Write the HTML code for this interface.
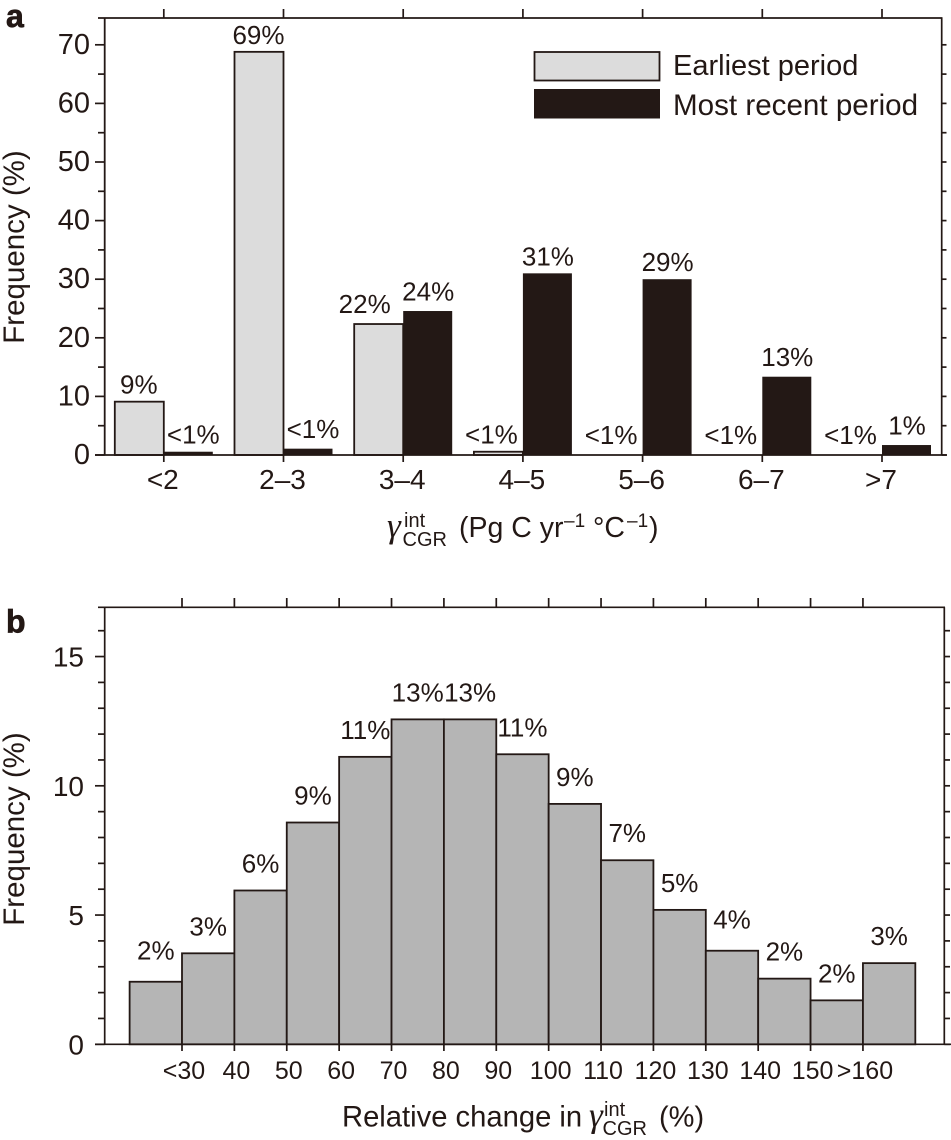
<!DOCTYPE html>
<html lang="en">
<head>
<meta charset="utf-8">
<title>Frequency histograms of gamma CGR int</title>
<style>
html,body{margin:0;padding:0;background:#fff;width:951px;height:1140px;overflow:hidden}
svg{display:block}
text{font-family:"Liberation Sans",sans-serif;fill:#231815}
.serif{font-family:"Liberation Serif",serif;font-style:italic}
</style>
</head>
<body>
<svg id="figure" xmlns="http://www.w3.org/2000/svg" width="951" height="1140" viewBox="0 0 951 1140">
  <rect width="951" height="1140" fill="#ffffff"/>

  <text x="6" y="27" font-size="32" font-weight="700" stroke="#231815" stroke-width="0.7">a</text>
  <text x="6" y="632.5" font-size="32" font-weight="700" stroke="#231815" stroke-width="0.7">b</text>

  <text transform="translate(24,247) rotate(-90)" text-anchor="middle" font-size="29.5">Frequency (%)</text>
  <text transform="translate(24,829) rotate(-90)" text-anchor="middle" font-size="29.5">Frequency (%)</text>

  <g id="plot-a"></g>
  <g id="plot-b"></g>

  <g>
    <rect x="534.5" y="52" width="125" height="28.5" fill="#dcdcdc" stroke="#231815" stroke-width="1.8"/>
    <text x="673" y="75" font-size="29">Earliest period</text>
    <rect x="534" y="89" width="126" height="29.5" fill="#231815"/>
    <text x="673" y="115" font-size="29.6">Most recent period</text>
  </g>

  <g>
    <text class="serif" x="387" y="537" font-size="35">γ</text>
    <text x="404" y="527" font-size="20">int</text>
    <text x="402.5" y="546" font-size="20">CGR</text>
    <text x="459" y="537" font-size="28.5">(Pg C yr</text>
    <text x="564" y="527" font-size="19">–1</text>
    <text x="593" y="537" font-size="28.5">°C</text>
    <text x="627" y="527" font-size="19">–1</text>
    <text x="649" y="537" font-size="28.5">)</text>
  </g>

  <g>
    <text x="342" y="1126.5" font-size="29.2">Relative change in</text>
    <text class="serif" x="589" y="1126.5" font-size="35">γ</text>
    <text x="604" y="1116" font-size="20">int</text>
    <text x="602.5" y="1135" font-size="20">CGR</text>
    <text x="659" y="1126.5" font-size="29">(%)</text>
  </g>
</svg>

<script>
// Panel a data
const categoriesA = ['<2', '2–3', '3–4', '4–5', '5–6', '6–7', '>7'];
const earliestValues = [9.1, 68.8, 22.35, 0.56, 0, 0, 0];
const recentValues = [0.56, 1.08, 24.57, 31, 30, 13.36, 1.7];
const earliestLabels = ['9%', '69%', '22%', '<1%', '<1%', '<1%', '<1%'];
const recentLabels = ['<1%', '<1%', '24%', '31%', '29%', '13%', '1%'];
const yTicksA = [0, 10, 20, 30, 40, 50, 60, 70];

// Panel b data
const categoriesB = ['<30', '40', '50', '60', '70', '80', '90', '100', '110', '120', '130', '140', '150', '>160'];
const changeValues = [2.42, 3.52, 5.95, 8.58, 11.12, 12.57, 12.57, 11.22, 9.3, 7.12, 5.2, 3.62, 2.54, 1.7, 3.14];
const changeLabels = ['2%', '3%', '6%', '9%', '11%', '13%', '13%', '11%', '9%', '7%', '5%', '4%', '2%', '2%', '3%'];
const yTicksB = [0, 5, 10, 15];

const NS = 'http://www.w3.org/2000/svg';
const INK = '#231815';

function make(parent, tag, attrs, content) {
  const el = document.createElementNS(NS, tag);
  for (const k in attrs) el.setAttribute(k, attrs[k]);
  if (content !== undefined) el.textContent = content;
  parent.appendChild(el);
  return el;
}
function tickLine(parent, x1, y1, x2, y2, w) {
  return make(parent, 'line', { x1, y1, x2, y2, stroke: INK, 'stroke-width': w || 1.7 });
}

// ---------- Panel a ----------
const plotA = document.getElementById('plot-a');
const xA = i => 163.8 + i * 119.7;
const yA = v => 455 - v * 5.86;
const barWidthA = 49;

function liftEarliest(i) {
  if (i === 2) return 11;
  if (earliestValues[i] === 0) return 11;
  return 8;
}
function liftRecent(i) {
  if (i === 0 || i === 3 || i === 4) return 8;
  return 10.7;
}

categoriesA.forEach((c, i) => {
  const earlyTop = yA(earliestValues[i]);
  if (earliestValues[i] > 0) {
    const bar = make(plotA, 'rect', {
      x: xA(i) - barWidthA, y: earlyTop, width: barWidthA, height: yA(0) - earlyTop,
      fill: '#dcdcdc', stroke: INK, 'stroke-width': 1.8
    });
    
    
  }
  const recentTop = yA(recentValues[i]);
  const barR = make(plotA, 'rect', {
    x: xA(i), y: recentTop, width: barWidthA, height: yA(0) - recentTop, fill: INK
  });
  
  

  const isSmallE = earliestLabels[i] === '<1%';
  const earlyShift = i === 2 ? -14 : (isSmallE ? -7 : -0.5);
  const lblE = make(plotA, 'text', {
    x: xA(i) - barWidthA / 2 + earlyShift, y: earlyTop - liftEarliest(i), 'text-anchor': 'middle', 'font-size': 26
  }, earliestLabels[i]);
  
  

  const isSmallR = recentLabels[i] === '<1%';
  const lblR = make(plotA, 'text', {
    x: xA(i) + barWidthA / 2 + (isSmallR ? 5 : 0.5), y: recentTop - liftRecent(i), 'text-anchor': 'middle', 'font-size': 26
  }, recentLabels[i]);
  
  

  const tb = tickLine(plotA, xA(i), yA(0), xA(i), 462);
  
  
  const tt = tickLine(plotA, xA(i), 9, xA(i), 18);
  
  

  const tl = make(plotA, 'text', {
    x: xA(i) - 1, y: 489, 'text-anchor': 'middle', 'font-size': 28
  }, c);
  
  
});

yTicksA.forEach(v => {
  const maj = tickLine(plotA, 95, yA(v), 104.7, yA(v));
  
  
  const r = tickLine(plotA, 941.7, yA(v), 946.5, yA(v));
  
  
  const lab = make(plotA, 'text', { x: 90, y: yA(v) + 9, 'text-anchor': 'end', 'font-size': 29 }, String(v));
  
  
  const minorV = v + 5;
  if (minorV < 70) {
    const mi = tickLine(plotA, 98, yA(minorV), 104.7, yA(minorV));
    
    
    const mr = tickLine(plotA, 941.7, yA(minorV), 946.5, yA(minorV));
    
    
  }
});

const spineLA = tickLine(plotA, 104.7, 18, 104.7, yA(0), 1.8);


const spineRA = tickLine(plotA, 941.7, 18, 941.7, yA(0), 1.7);


const spineTA = tickLine(plotA, 98, 18, 942.5, 18, 1.8);


const spineBA = tickLine(plotA, 95, yA(0), 947, yA(0), 1.7);



// ---------- Panel b ----------
const plotB = document.getElementById('plot-b');
const edgeB = i => 182 + (i - 1) * 52.38;
const yB = v => 1044.3 - v * 25.85;

changeValues.forEach((v, i) => {
  const top = yB(v);
  const bar = make(plotB, 'rect', {
    x: edgeB(i), y: top, width: edgeB(i + 1) - edgeB(i), height: yB(0) - top,
    fill: '#b5b5b5', stroke: INK, 'stroke-width': 1.8
  });
  
  
});
changeValues.forEach((v, i) => {
  const extraLift = (i === 0 || i === 11) ? 4 : 0;
  const lbl = make(plotB, 'text', {
    x: (edgeB(i) + edgeB(i + 1)) / 2, y: yB(v) - 18 - extraLift, 'text-anchor': 'middle', 'font-size': 26
  }, changeLabels[i]);
  
  
});

categoriesB.forEach((c, i) => {
  const x = edgeB(i + 1);
  const tb = tickLine(plotB, x, 1044.3, x, 1051);
  
  
  const tt = tickLine(plotB, x, 598, x, 607.3);
  
  
  const tl = make(plotB, 'text', { x: x + 2, y: 1079, 'text-anchor': 'middle', 'font-size': 25 }, c);
  
  
});

yTicksB.forEach(v => {
  const lab = make(plotB, 'text', { x: 84, y: yB(v) + 10, 'text-anchor': 'end', 'font-size': 28 }, String(v));
  
  
});
for (let v = 0; v <= 16; v++) {
  const isMajor = yTicksB.includes(v);
  const lt = tickLine(plotB, isMajor ? 95 : 98, yB(v), 104.7, yB(v));
  
  
  const rt = tickLine(plotB, 944.3, yB(v), 950, yB(v));
  
  
}

const spineLB = tickLine(plotB, 104.7, 607.3, 104.7, 1044.3, 1.7);


const spineRB = tickLine(plotB, 944.3, 607.3, 944.3, 1044.3, 1.7);


const spineTB = tickLine(plotB, 98, 607.3, 945, 607.3, 1.7);


const spineBB = tickLine(plotB, 95, 1044.3, 951, 1044.3, 1.7);


</script>
</body>
</html>
